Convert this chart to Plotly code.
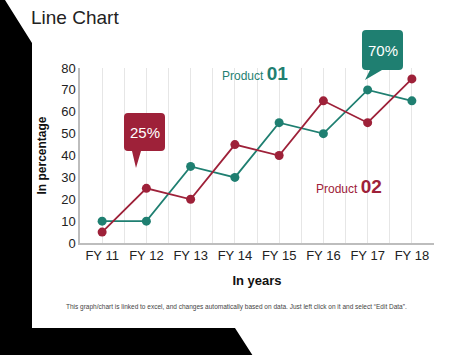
import plotly.graph_objects as go

categories = ["FY 11", "FY 12", "FY 13", "FY 14", "FY 15", "FY 16", "FY 17", "FY 18"]
product_01 = [10, 10, 35, 30, 55, 50, 70, 65]
product_02 = [5, 25, 20, 45, 40, 65, 55, 75]
y_ticks = [0, 10, 20, 30, 40, 50, 60, 70, 80]

TEAL = "#1f7f71"
MAROON = "#9e2139"

W, H = 474, 355
L, T, PW, PH = 80, 68, 354, 175


def P(px, py):
    return (px - L) / PW, (T + PH - py) / PH


def path(points, close=True):
    s = ""
    for i, (px, py) in enumerate(points):
        x, y = P(px, py)
        s += ("M" if i == 0 else "L") + f"{x:.5f},{y:.5f} "
    return s + ("Z" if close else "")


def callout(x0, y0, x1, y1, r, tip, base_l, base_r, color):
    def pt(px, py):
        x, y = P(px, py)
        return f"{x:.5f},{y:.5f}"
    s = "M" + pt(x0 + r, y0) + " L" + pt(x1 - r, y0) + " Q" + pt(x1, y0) + " " + pt(x1, y0 + r)
    s += " L" + pt(x1, y1 - r) + " Q" + pt(x1, y1) + " " + pt(x1 - r, y1)
    s += " L" + pt(base_r, y1) + " L" + pt(*tip) + " L" + pt(base_l, y1)
    s += " L" + pt(x0 + r, y1) + " Q" + pt(x0, y1) + " " + pt(x0, y1 - r)
    s += " L" + pt(x0, y0 + r) + " Q" + pt(x0, y0) + " " + pt(x0 + r, y0) + " Z"
    return dict(type="path", xref="paper", yref="paper", path=s,
                fillcolor=color, line=dict(width=0), layer="above")


xs = list(range(len(categories)))

fig = go.Figure()
fig.add_trace(go.Scatter(x=xs, y=product_01, mode="lines+markers", name="Product 01",
                         line=dict(color=TEAL, width=1.8),
                         marker=dict(color=TEAL, size=9)))
fig.add_trace(go.Scatter(x=xs, y=product_02, mode="lines+markers", name="Product 02",
                         line=dict(color=MAROON, width=1.8),
                         marker=dict(color=MAROON, size=9)))

shapes = [
    dict(type="path", xref="paper", yref="paper", layer="above",
         path=path([(0, 0), (5, 0), (32, 43), (32, 328), (235, 328), (253, 356), (0, 356)]),
         fillcolor="black", line=dict(width=0)),
    callout(124, 113, 165, 151, 4, (136, 168), 132, 141, MAROON),
    callout(362, 30, 403, 70, 4, (365, 80), 370, 382, TEAL),
]

annotations = [
    dict(text="Line Chart", x=P(29, 0)[0], y=P(0, 17)[1], xref="paper", yref="paper",
         xanchor="left", yanchor="middle", showarrow=False,
         font=dict(size=19, color="#222", family="Liberation Sans, Arial")),
    dict(text="25%", x=P(144.5, 0)[0], y=P(0, 132)[1], xref="paper", yref="paper",
         xanchor="center", yanchor="middle",
         showarrow=False, font=dict(size=15, color="white", family="Liberation Sans, Arial")),
    dict(text="70%", x=P(383, 0)[0], y=P(0, 50)[1], xref="paper", yref="paper",
         xanchor="center", yanchor="middle",
         showarrow=False, font=dict(size=15, color="white", family="Liberation Sans, Arial")),
    dict(text="Product <b><span style='font-size:19px'>01</span></b>",
         x=P(220, 0)[0], y=P(0, 73)[1], xref="paper", yref="paper",
         xanchor="left", yanchor="middle", showarrow=False,
         font=dict(size=12, color=TEAL, family="Liberation Sans, Arial")),
    dict(text="Product <b><span style='font-size:19px'>02</span></b>",
         x=P(314, 0)[0], y=P(0, 186)[1], xref="paper", yref="paper",
         xanchor="left", yanchor="middle", showarrow=False,
         font=dict(size=12, color=MAROON, family="Liberation Sans, Arial")),
    dict(text="This graph/chart is linked to excel, and changes automatically based on data. Just left click on it and select \u201cEdit Data\u201d.",
         x=P(236, 0)[0], y=P(0, 307)[1], xref="paper", yref="paper",
         xanchor="center", yanchor="middle",
         showarrow=False, font=dict(size=6.5, color="#444", family="Liberation Sans, Arial")),
]

fig.update_layout(
    width=W, height=H,
    margin=dict(l=L, r=W - L - PW, t=T, b=H - T - PH, autoexpand=False),
    paper_bgcolor="white", plot_bgcolor="white",
    showlegend=False,
    font=dict(family="Liberation Sans, Arial", color="#222"),
    shapes=shapes, annotations=annotations,
    xaxis=dict(range=[-0.5, len(categories) - 0.5], tickvals=xs, ticktext=categories,
               automargin=False,
               showgrid=True, gridcolor="#e6e6e6", gridwidth=1,
               minor=dict(tick0=0.5, dtick=1, showgrid=True, gridcolor="#e6e6e6", gridwidth=1),
               showline=True, linecolor="#bdbdbd", linewidth=1.5,
               ticks="", tickfont=dict(size=13, color="#222"), zeroline=False,
               title=dict(text="<b>In years</b>", font=dict(size=13, color="#111"), standoff=14),
               fixedrange=True),
    yaxis=dict(range=[0, 80], tickvals=y_ticks, showgrid=False, automargin=False,
               showline=True, linecolor="#bdbdbd", linewidth=1.5, zeroline=False,
               ticks="", ticklen=0, tickfont=dict(size=13, color="#222"),
               title=dict(text="<b>In percentage</b>", font=dict(size=12, color="#111"), standoff=12),
               fixedrange=True),
)

fig.write_html("out.html", config={"displayModeBar": False},
               post_script="document.body.style.margin='0';document.body.style.overflow='hidden';")
